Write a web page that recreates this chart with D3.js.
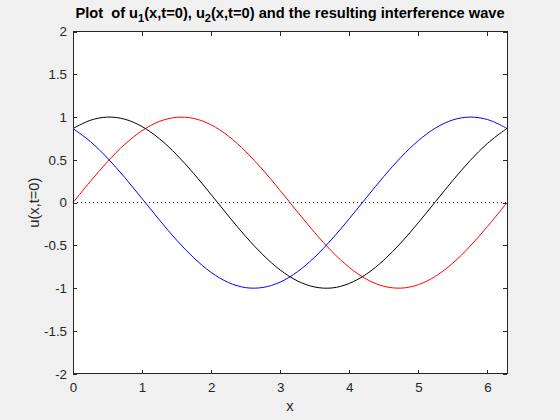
<!DOCTYPE html>
<html><head><meta charset="utf-8">
<script src="https://cdn.jsdelivr.net/npm/d3@7"></script>
<style>body{margin:0;background:#f0f0f0;} svg{display:block;}</style>
</head><body>
<svg id="c" width="560" height="420"></svg>
<script>
const xs = [0,0.25,0.5,0.75,1.0,1.25,1.5,1.75,2.0,2.25,2.5,2.75,3.0,3.25,3.5,3.75,4.0,4.25,4.5,4.75,5.0,5.25,5.5,5.75,6.0,6.25,6.2832];
const u1 = [0,0.247,0.479,0.682,0.841,0.949,0.997,0.984,0.909,0.778,0.598,0.382,0.141,-0.108,-0.351,-0.572,-0.757,-0.895,-0.977,-0.999,-0.959,-0.859,-0.706,-0.508,-0.279,-0.033,0];
const u2 = [0.866,0.715,0.520,0.293,0.047,-0.201,-0.438,-0.646,-0.815,-0.933,-0.993,-0.991,-0.928,-0.807,-0.636,-0.425,-0.188,0.061,0.306,0.532,0.725,0.873,0.967,1.000,0.971,0.882,0.866];
const uSum = [0.866,0.962,1.000,0.975,0.889,0.748,0.560,0.338,0.094,-0.155,-0.395,-0.610,-0.787,-0.915,-0.986,-0.997,-0.944,-0.834,-0.671,-0.467,-0.234,0.014,0.261,0.492,0.692,0.849,0.866];
const xTicks = [0,1,2,3,4,5,6];
const yTicks = [-2,-1.5,-1,-0.5,0,0.5,1,1.5,2];
const xDomain = [0, 6.2832];
const yDomain = [-2, 2];

const svg = d3.select("#c");
const L = 73, R = 507, T = 31.5, B = 373.8;
const x = d3.scaleLinear().domain(xDomain).range([L, R]);
const y = d3.scaleLinear().domain(yDomain).range([B, T]);
const axisCol = "#262626";
const font = "'Liberation Sans', Arial, Helvetica, sans-serif";

svg.append("rect").attr("x", L).attr("y", T).attr("width", R - L).attr("height", B - T).attr("fill", "#fff");

const fmt = d => String(d);
const gx = svg.append("g").attr("transform", `translate(0,${B})`)
  .call(d3.axisBottom(x).tickValues(xTicks).tickFormat(fmt).tickSizeInner(-4).tickSizeOuter(0).tickPadding(9));
const gy = svg.append("g").attr("transform", `translate(${L},0)`)
  .call(d3.axisLeft(y).tickValues(yTicks).tickFormat(fmt).tickSizeInner(-4).tickSizeOuter(0).tickPadding(6));
const gxt = svg.append("g").attr("transform", `translate(0,${T})`)
  .call(d3.axisTop(x).tickValues(xTicks).tickFormat("").tickSizeInner(-4).tickSizeOuter(0));
const gyr = svg.append("g").attr("transform", `translate(${R},0)`)
  .call(d3.axisRight(y).tickValues(yTicks).tickFormat("").tickSizeInner(-4).tickSizeOuter(0));
[gx, gy, gxt, gyr].forEach(g => {
  g.select(".domain").remove();
  g.selectAll("line").attr("stroke", axisCol).attr("shape-rendering", "crispEdges");
  g.selectAll("text").attr("fill", axisCol).style("font-family", font).style("font-size", "13.33px");
});

// series
const pts = arr => xs.map((v, i) => [v, arr[i]]);
const line = d3.line().x(d => x(d[0])).y(d => y(d[1])).curve(d3.curveCatmullRom.alpha(0.5));
svg.append("path").attr("d", line([[xDomain[0], 0], [xDomain[1], 0]]))
  .attr("stroke", "#000").attr("stroke-width", 1).attr("stroke-dasharray", "1,3").attr("fill", "none");
svg.append("path").attr("d", line(pts(u1))).attr("stroke", "#ff0000").attr("fill", "none").attr("stroke-width", 1);
svg.append("path").attr("d", line(pts(u2))).attr("stroke", "#0000ff").attr("fill", "none").attr("stroke-width", 1);
svg.append("path").attr("d", line(pts(uSum))).attr("stroke", "#000000").attr("fill", "none").attr("stroke-width", 1);

// box
svg.append("rect").attr("x", L).attr("y", T).attr("width", R - L).attr("height", B - T)
  .attr("fill", "none").attr("stroke", axisCol).attr("stroke-width", 1).attr("shape-rendering", "crispEdges");

// labels
svg.append("text").attr("x", (L + R) / 2).attr("y", 411).attr("text-anchor", "middle")
  .attr("fill", axisCol).style("font-family", font).style("font-size", "14.67px").text("x");
svg.append("text").attr("transform", `translate(39,${(T + B) / 2}) rotate(-90)`).attr("text-anchor", "middle")
  .attr("fill", axisCol).style("font-family", font).style("font-size", "14.67px").text("u(x,t=0)");

const title = svg.append("text").attr("x", (L + R) / 2).attr("y", 18).attr("text-anchor", "middle")
  .attr("fill", "#000").style("font-family", font).style("font-size", "14.67px").style("font-weight", "bold")
  .attr("xml:space", "preserve");
const parts = [["Plot  of u", 0], ["1", 1], ["(x,t=0), u", 0], ["2", 1], ["(x,t=0) and the resulting interference wave", 0]];
parts.forEach(([t, sub]) => {
  const ts = title.append("tspan").text(t);
  if (sub) ts.attr("dy", 4).style("font-size", "11px");
  else if (t !== parts[0][0]) ts.attr("dy", -4);
});
</script>
</body></html>
